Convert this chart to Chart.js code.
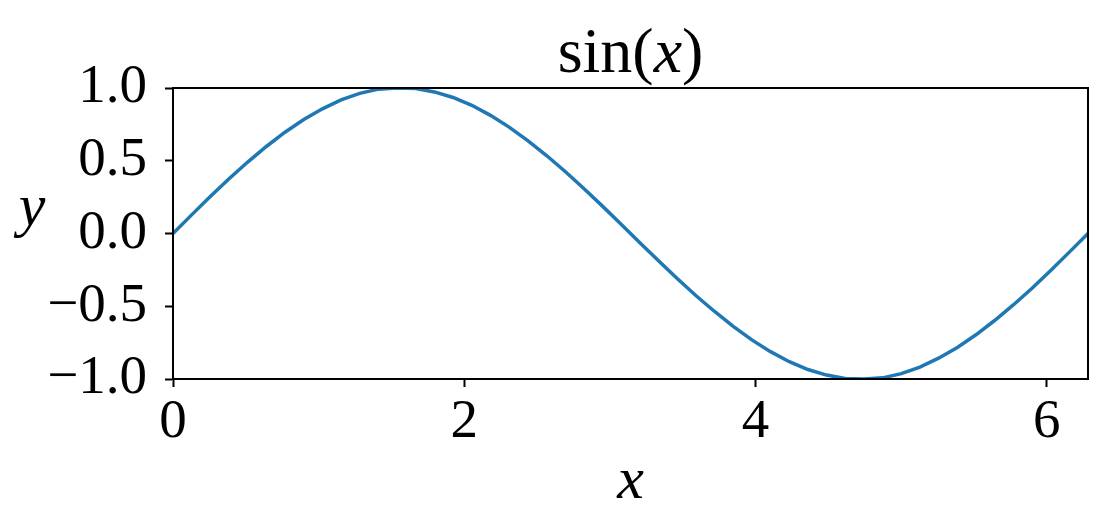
<!DOCTYPE html>
<html>
<head>
<meta charset="utf-8">
<title>sin(x)</title>
<script src="https://cdn.jsdelivr.net/npm/chart.js@4.4.1/dist/chart.umd.min.js"></script>
<style>
  html, body { margin: 0; padding: 0; background: #fff; }
  #wrap { width: 1108px; height: 529px; position: relative; }
</style>
</head>
<body>
<div id="wrap"><canvas id="sineChart"></canvas></div>
<script>
// values
const xValues = [0, 0.128, 0.256, 0.385, 0.513, 0.641, 0.769, 0.898, 1.026, 1.154,
    1.282, 1.411, 1.539, 1.667, 1.795, 1.923, 2.052, 2.180, 2.308, 2.436,
    2.565, 2.693, 2.821, 2.949, 3.077, 3.206, 3.334, 3.462, 3.590, 3.719,
    3.847, 3.975, 4.103, 4.232, 4.360, 4.488, 4.616, 4.744, 4.873, 5.001,
    5.129, 5.257, 5.386, 5.514, 5.642, 5.770, 5.899, 6.027, 6.155, 6.283];
const yValues = [0, 0.128, 0.254, 0.376, 0.491, 0.598, 0.696, 0.783, 0.857, 0.918,
    0.963, 0.992, 1.000, 0.997, 0.973, 0.935, 0.881, 0.812, 0.731, 0.638,
    0.536, 0.426, 0.309, 0.188, 0.064, -0.064, -0.188, -0.309, -0.426, -0.536,
    -0.638, -0.731, -0.812, -0.881, -0.935, -0.973, -0.997, -1.000, -0.992, -0.963,
    -0.918, -0.857, -0.783, -0.696, -0.598, -0.491, -0.376, -0.254, -0.128, 0];
const xTicks = [0, 2, 4, 6];
const yTicks = [-1.0, -0.5, 0.0, 0.5, 1.0];

const SERIF = "'Liberation Serif', 'DejaVu Serif', serif";

function fmtY(v) {
    const s = Math.abs(v).toFixed(1);
    return v < 0 ? '\u2212' + s : s;
}

// box around plot + mixed-style title and axis labels
const decorPlugin = {
    id: 'decor',
    afterDraw(chart) {
        const ctx = chart.ctx;
        const a = chart.chartArea;
        ctx.save();
        ctx.strokeStyle = '#000';
        ctx.lineWidth = 2;
        ctx.strokeRect(a.left, a.top, a.right - a.left, a.bottom - a.top);

        ctx.fillStyle = '#000';
        ctx.textBaseline = 'alphabetic';

        // title: sin(x) with italic x
        const up = '64px ' + SERIF;
        const it = 'italic 64px ' + SERIF;
        const parts = [['sin(', up], ['x', it], [')', up]];
        let total = 0;
        parts.forEach(p => { ctx.font = p[1]; total += ctx.measureText(p[0]).width; });
        let tx = (a.left + a.right) / 2 - total / 2;
        ctx.textAlign = 'left';
        parts.forEach(p => {
            ctx.font = p[1];
            ctx.fillText(p[0], tx, 72);
            tx += ctx.measureText(p[0]).width;
        });

        ctx.font = 'italic 60px ' + SERIF;
        ctx.textAlign = 'center';
        ctx.fillText('x', (a.left + a.right) / 2, 498);
        ctx.fillText('y', 32, 225);
        ctx.restore();
    }
};

const ctx = document.getElementById('sineChart');
new Chart(ctx, {
    type: 'line',
    data: {
        datasets: [{
            data: xValues.map((x, i) => ({ x: x, y: yValues[i] })),
            borderColor: '#1f77b4',
            borderWidth: 3.5,
            pointRadius: 0,
            fill: false,
            tension: 0
        }]
    },
    options: {
        responsive: true,
        maintainAspectRatio: false,
        animation: false,
        devicePixelRatio: 1,
        layout: { padding: { left: 0, right: 20, top: 88, bottom: 0 } },
        plugins: {
            legend: { display: false },
            tooltip: { enabled: false }
        },
        scales: {
            x: {
                type: 'linear',
                min: 0,
                max: 6.2832,
                afterBuildTicks: (scale) => { scale.ticks = xTicks.map(v => ({ value: v })); },
                afterFit: (scale) => { scale.height = 150; },
                border: { display: true, color: '#000', width: 2 },
                grid: {
                    drawOnChartArea: false,
                    drawTicks: true,
                    tickLength: 8,
                    tickWidth: 2,
                    tickColor: '#000'
                },
                ticks: {
                    color: '#000',
                    font: { family: SERIF, size: 55 },
                    padding: 3,
                    maxRotation: 0,
                    callback: (v) => String(v)
                }
            },
            y: {
                type: 'linear',
                min: -1,
                max: 1,
                afterBuildTicks: (scale) => { scale.ticks = yTicks.map(v => ({ value: v })); },
                afterFit: (scale) => { scale.width = 173; },
                border: { display: true, color: '#000', width: 2 },
                grid: {
                    drawOnChartArea: false,
                    drawTicks: true,
                    tickLength: 8,
                    tickWidth: 2,
                    tickColor: '#000'
                },
                ticks: {
                    color: '#000',
                    font: { family: SERIF, size: 55 },
                    padding: 18,
                    callback: (v) => fmtY(v)
                }
            }
        }
    },
    plugins: [decorPlugin]
});
</script>
</body>
</html>
